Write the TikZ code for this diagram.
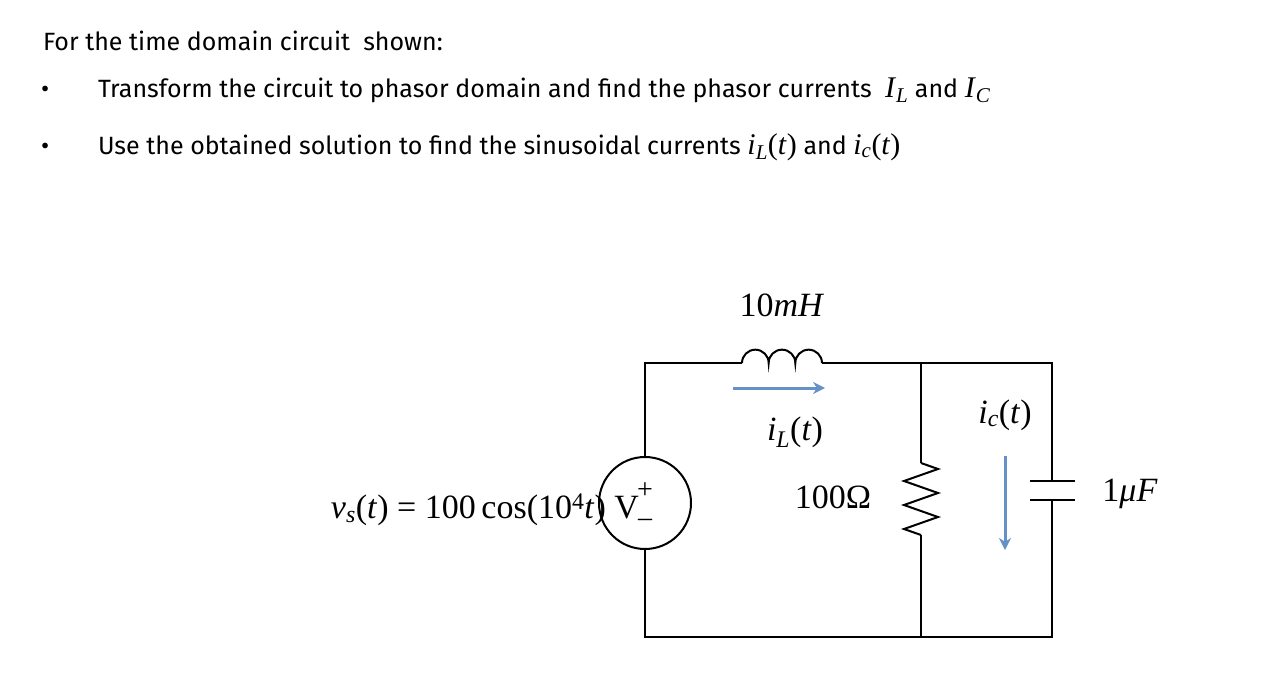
\documentclass[tikz,border=0pt]{standalone}
\usepackage{fontspec}
\setmainfont{Liberation Serif}
\newfontfamily\hand{Fira Sans}
\usetikzlibrary{arrows.meta}
\definecolor{curblue}{RGB}{100,145,200}
\newcommand{\sym}[2]{{\rmfamily\fontsize{30}{30}\selectfont\textit{#1}\textsubscript{\textit{#2}}}}
\begin{document}
\begin{tikzpicture}[x=1pt,y=-1pt,line width=2pt,
  t/.style={font=\hand\fontsize{25}{30}\selectfont,anchor=base west,inner sep=0},
  v/.style={font=\fontsize{34}{40}\selectfont,inner sep=0},
  cur/.style={curblue,line width=3pt,-{Stealth[length=12pt,width=12pt]}}]
  \useasboundingbox (0,0) rectangle (1278,688);
  \node[t] (l1) at (42,50) {For the time domain circuit\ \ shown:};
  \node[t] (b1) at (40,97) {•};
  \node[t] (l2) at (97,97) {Transform the circuit to phasor domain and find the phasor currents \ \sym{I}{L}\ and\ \sym{I}{C}};
  \node[t] (b2) at (40,154) {•};
  \node[t] (l3) at (97,154) {Use the obtained solution to find the sinusoidal currents \sym{i}{L}{\rmfamily\fontsize{30}{30}\selectfont(\textit{t})}\ and\ \sym{i}{c}{\rmfamily\fontsize{30}{30}\selectfont(\textit{t})}};

  % circuit corners
  \coordinate (tl) at (645,363);
  \coordinate (bl) at (645,637);
  \coordinate (tr) at (1052,363);
  \coordinate (br) at (1052,637);
  \coordinate (la) at (742,363);
  \coordinate (lb) at (822,363);
  \coordinate (rt) at (921,363);
  \coordinate (rb) at (921,637);
  \coordinate (ra) at (921,463);
  \coordinate (rz) at (921,535);
  \coordinate (ca) at (1052,481);
  \coordinate (cb) at (1052,500);
  \node[circle,draw,minimum size=92pt,inner sep=0] (vs) at (645,503) {};
  \node[font=\fontsize{28}{28}\selectfont] at ([yshift=12pt]vs.center) {+};
  \node[font=\fontsize{28}{28}\selectfont] at ([yshift=-20pt]vs.center) {–};

  \draw (vs.north) -- (tl) -- (la);
  \draw (la) arc (180:360:13.33) arc (180:360:13.33) arc (180:360:13.33);
  \draw (lb) -- (tr) -- (ca);
  \draw (1030,481) -- (1075,481);
  \draw (1030,500) -- (1075,500);
  \draw (cb) -- (br) -- (bl) -- (vs.south);
  \draw (rt) -- (ra);
  \draw (ra) -- (938,469) -- (904,481) -- (938,493) -- (904,505) -- (938,517) -- (904,529) -- (rz);
  \draw (rz) -- (rb);

  \draw[cur] (733,388) -- (825,388);
  \draw[cur] (1005,456) -- (1005,550);

  \node[v] (lL) at (782,305) {10\textit{mH}};
  \node[v] (iL) at (795,432) {\textit{i}\textsubscript{\textit{L}}(\textit{t})};
  \node[v] (iC) at (1005,415) {\textit{i}\textsubscript{\textit{c}}(\textit{t})};
  \node[v] (R) at (833,497) {100Ω};
  \node[v] (C) at (1130,494) {1\textit{μF}};
  \node[v,anchor=east] (eq) at (640,510) {\textit{v}\textsubscript{\textit{s}}(\textit{t}) = 100\,cos(10\textsuperscript{4}\textit{t}) V};
\end{tikzpicture}
\end{document}
